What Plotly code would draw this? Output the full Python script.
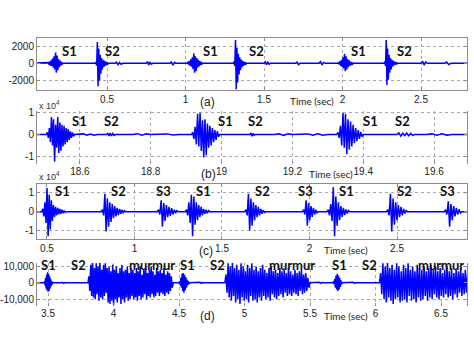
import plotly.graph_objects as go

# ---------------- data ----------------
# Panel (a): normal heart sound, raw amplitude
a_span = [0.0, 2.85]
a_starts = [0.12, 0.425, 0.55, 0.75, 0.90, 1.01, 1.305, 1.50, 1.70, 1.85, 1.97, 2.265, 2.50, 2.65]
a_ends = [0.22, 0.51, 0.60, 0.79, 0.94, 1.11, 1.39, 1.54, 1.73, 1.89, 2.07, 2.35, 2.54, 2.69]
a_values = [
    [80, -120, 200, -250, 350, -300, 550, -500, 800, -700, 1250, -1100, 900, -800, 500, -450, 300, -250, 150, -100],
    [150, -250, 2450, -2650, 1700, -2000, 1000, -1200, 600, -700, 400, -450, 300, -300, 200, -200, 120, -100],
    [150, -150, 100, -120],
    [200, -180, 150, -100],
    [150, -200, 120],
    [100, -150, 250, -300, 450, -400, 700, -650, 1150, -1100, 800, -900, 600, -500, 400, -350, 250, -200, 150, -100],
    [200, -300, 2700, -3000, 1800, -2200, 1100, -1300, 700, -800, 450, -500, 300, -300, 200, -200, 120, -100],
    [180, -150, 120, -100],
    [150, -150],
    [200, -180, 100],
    [100, -150, 250, -300, 400, -450, 700, -600, 1100, -900, 800, -700, 500, -450, 350, -300, 200, -200, 120, -100],
    [200, -300, 2700, -2500, 1700, -1900, 1000, -1100, 600, -700, 400, -400, 300, -250, 200, -150, 120, -100],
    [250, -200, 150],
    [150, -150],
]
a_label_text = ["S1", "S2", "S1", "S2", "S1", "S2"]
a_label_time = [0.258, 0.538, 1.162, 1.449, 2.105, 2.392]
a_xticks = [0.5, 1, 1.5, 2, 2.5]
a_xticktext = ["0.5", "1", "1.5", "2", "2.5"]
a_yticks = [2000, 0, -2000]
a_yticktext = ["2000", "0", "-2000"]

# Panel (b): amplitude in units of 1e4
b_span = [18.4, 19.75]
b_starts = [18.505, 18.60, 18.675, 18.75, 18.83, 18.915, 19.08, 19.15, 19.23, 19.325, 19.495, 19.58]
b_ends = [18.585, 18.65, 18.70, 18.80, 18.88, 18.995, 19.095, 19.20, 19.30, 19.40, 19.545, 19.65]
b_values = [
    [0.1, -0.15, 0.3, -0.35, 0.8, -0.5, 0.7, -1.25, 0.45, -0.6, 0.8, -0.85, 0.55, -0.75, 0.45, -0.55, 0.4, -0.45, 0.3, -0.35, 0.25, -0.25, 0.15, -0.15, 0.1, -0.08],
    [0.03, -0.03, 0.02, -0.03],
    [0.05, -0.06, 0.07, -0.06, 0.05, -0.04],
    [0.04, -0.03, 0.03],
    [0.03, -0.02],
    [0.1, -0.2, 0.35, -0.45, 0.95, -0.55, 1.0, -0.75, 0.65, -1.05, 0.7, -0.95, 0.5, -0.6, 0.4, -0.5, 0.3, -0.35, 0.2, -0.25, 0.15, -0.1],
    [0.07, -0.08, 0.05, -0.04],
    [0.03, -0.04, 0.03],
    [0.03, -0.03, 0.04, -0.03],
    [0.1, -0.15, 0.4, -0.5, 1.0, -0.6, 0.95, -0.9, 0.7, -0.7, 0.6, -0.55, 0.45, -0.4, 0.3, -0.3, 0.2, -0.2, 0.12, -0.1],
    [0.08, -0.07, 0.06, -0.05, 0.07, -0.06, 0.05, -0.04],
    [0.03, -0.03, 0.04, -0.03],
]
b_label_text = ["S1", "S2", "S1", "S2", "S1", "S2"]
b_label_time = [18.60, 18.69, 19.01, 19.097, 19.42, 19.51]
b_xticks = [18.6, 18.8, 19.0, 19.2, 19.4, 19.6]
b_xticktext = ["18.6", "18.8", "19", "19.2", "19.4", "19.6"]
b_yticks = [1, 0, -1]
b_yticktext = ["1", "0", "-1"]

# Panel (c): amplitude in units of 1e4
c_span = [0.4, 2.95]
c_starts = [0.47, 0.81, 1.13, 1.29, 1.63, 1.96, 2.10, 2.44, 2.77]
c_ends = [0.61, 0.95, 1.25, 1.43, 1.75, 2.05, 2.23, 2.56, 2.87]
c_values = [
    [0.15, -0.25, 0.5, -0.6, 1.25, -1.3, 0.9, -0.95, 0.6, -0.5, 0.35, -0.3, 0.25, -0.2, 0.2, -0.15, 0.15, -0.12, 0.1, -0.08, 0.06, -0.04],
    [0.1, -0.2, 0.95, -1.05, 0.7, -0.8, 0.5, -0.55, 0.4, -0.35, 0.3, -0.25, 0.2, -0.18, 0.15, -0.12, 0.1, -0.08, 0.05],
    [0.1, -0.15, 0.6, -0.8, 0.45, -0.5, 0.35, -0.3, 0.25, -0.22, 0.18, -0.15, 0.1, -0.08, 0.05],
    [0.1, -0.2, 0.5, -0.6, 0.9, -1.3, 0.8, -0.7, 0.5, -0.45, 0.35, -0.3, 0.25, -0.2, 0.15, -0.12, 0.1, -0.08, 0.05],
    [0.1, -0.2, 0.95, -1.0, 0.7, -0.75, 0.5, -0.45, 0.35, -0.3, 0.25, -0.2, 0.15, -0.12, 0.08, -0.05],
    [0.1, -0.15, 0.6, -0.75, 0.45, -0.45, 0.3, -0.28, 0.2, -0.15, 0.1, -0.06],
    [0.1, -0.2, 0.4, -0.5, 1.3, -1.3, 0.8, -0.75, 0.5, -0.45, 0.3, -0.28, 0.2, -0.18, 0.12, -0.1, 0.06],
    [0.1, -0.2, 0.95, -1.05, 0.7, -0.7, 0.5, -0.45, 0.35, -0.3, 0.25, -0.2, 0.15, -0.1, 0.06],
    [0.1, -0.15, 0.55, -0.8, 0.4, -0.45, 0.3, -0.25, 0.2, -0.15, 0.12, -0.08],
]
c_label_text = ["S1", "S2", "S3", "S1", "S2", "S3", "S1", "S2", "S3"]
c_label_time = [0.586, 0.906, 1.163, 1.397, 1.729, 1.98, 2.209, 2.54, 2.786]
c_xticks = [0.5, 1, 1.5, 2, 2.5]
c_xticktext = ["0.5", "1", "1.5", "2", "2.5"]
c_yticks = [1, 0, -1]
c_yticktext = ["1", "0", "-1"]

# Panel (d): amplitude in thousands
d_span = [3.35, 6.75]
d_starts = [3.47, 3.60, 3.805, 4.50, 4.65, 4.85, 5.56, 5.675, 5.82, 6.03]
d_ends = [3.535, 3.64, 4.455, 4.58, 4.69, 5.50, 5.60, 5.745, 5.86, 6.72]
d_values = [
    [1, -1.5, 3, -3.5, 5, -4.5, 6.5, -5.5, 5.5, -5, 4, -3.5, 2.5, -2, 1, -1],
    [0.3, -0.3, 0.2],
    [4, -5, 11, -8, 13, -9, 9, -10, 12, -7, 10, -11, 13, -9, 8, -10, 11, -8, 12, -6,
     9, -12, 10, -13, 7, -11, 11, -14, 8, -10, 10, -12, 6, -9, 9, -13, 11, -10, 7, -12, 8, -9, 10, -11, 6, -10, 9, -8,
     8, -10, 6, -9, 9, -11, 7, -8, 10, -10, 5, -9, 8, -7, 9, -10, 6, -8, 8, -9, 10, -7, 7, -9, 5, -8, 9, -6,
     7, -8, 8, -6, 6, -7, 9, -8, 5, -6, 7, -7, 6, -5, 4, -3],
    [1, -1.5, 3, -3, 5.5, -5, 6, -6, 5, -4.5, 3.5, -3, 2, -1.5, 1, -0.8],
    [0.3, -0.3, 0.2],
    [5, -6, 12, -9, 10, -11, 13, -8, 9, -12, 11, -10, 8, -13, 12, -9, 10, -11, 7, -10, 11, -12, 9, -8, 12, -11, 8, -10,
     10, -12, 7, -9, 9, -11, 11, -8, 8, -10, 6, -9, 9, -11, 10, -7, 7, -9, 8, -10, 6, -8, 9, -7, 7, -9, 8, -6,
     6, -8, 9, -7, 7, -8, 5, -6, 8, -7, 6, -8, 7, -5, 8, -7, 5, -6, 6, -5, 3, -3],
    [0.3, -0.3, 0.2],
    [1, -1, 2.5, -3, 4.5, -4, 5.5, -5, 4.5, -4, 3, -2.5, 1.5, -1],
    [0.3, -0.3, 0.2],
    [6, -7, 12, -10, 10, -12, 13, -9, 9, -11, 11, -13, 8, -10, 12, -9, 10, -12, 7, -11, 11, -10, 9, -12, 12, -8,
     8, -11, 10, -10, 7, -12, 11, -9, 9, -11, 8, -10, 10, -8, 7, -11, 9, -9, 11, -10, 8, -7, 10, -9, 7, -10,
     9, -8, 6, -9, 8, -7, 10, -9, 7, -8, 9, -10, 6, -7, 8, -9, 7, -6, 9, -8, 6, -7, 8, -6, 5, -5],
]
d_label_text = ["S1", "S2", "murmur", "S1", "S2", "murmur", "S1", "S2", "murmur"]
d_label_time = [3.5, 3.729, 4.294, 4.561, 4.79, 5.363, 5.721, 5.95, 6.5]
d_xticks = [3.5, 4, 4.5, 5, 5.5, 6, 6.5]
d_xticktext = ["3.5", "4", "4.5", "5", "5.5", "6", "6.5"]
d_yticks = [10000, 0, -10000]
d_yticktext = ["10,000", "0", "-10,000"]

# ---------------- build ----------------
W, H = 474, 355


def build(span, starts, ends, values, scale=1.0):
    xs, ys = [span[0]], [0.0]
    for s, e, v in sorted(zip(starts, ends, values)):
        step = (e - s) / (len(v) + 1)
        xs.append(s); ys.append(0.0)
        for i, val in enumerate(v):
            xs.append(s + step * (i + 1)); ys.append(val * scale)
        xs.append(e); ys.append(0.0)
    xs.append(span[1]); ys.append(0.0)
    return xs, ys


def ydom(top_px, bot_px):
    return [1 - bot_px / H, 1 - top_px / H]


xdom = [37 / W, 467 / W]
BLUE = "#0000ff"
GRID = "#a8a8a8"
LINE = "#8c8c8c"
TICKFONT = dict(family="Liberation Sans, Arial", size=10, color="#222")
LABFONT = dict(family="Lato, Open Sans", size=13, color="#111")

panels = [
    dict(name="a", data=build(a_span, a_starts, a_ends, a_values), xr=[0.054, 2.793], yr=[-3086, 2971],
         dom=ydom(34, 87), xt=(a_xticks, a_xticktext), yt=(a_yticks, a_yticktext), box=True,
         labels=(a_label_text, a_label_time), laby=1370),
    dict(name="b", data=build(b_span, b_starts, b_ends, b_values), xr=[18.479, 19.693], yr=[-1.36, 1.09],
         dom=ydom(108, 162), xt=(b_xticks, b_xticktext), yt=(b_yticks, b_yticktext), box=False,
         labels=(b_label_text, b_label_time), laby=0.64),
    dict(name="c", data=build(c_span, c_starts, c_ends, c_values), xr=[0.443, 2.9], yr=[-1.47, 1.47],
         dom=ydom(182, 238), xt=(c_xticks, c_xticktext), yt=(c_yticks, c_yticktext), box=True,
         labels=(c_label_text, c_label_time), laby=1.1),
    dict(name="d", data=build(d_span, d_starts, d_ends, d_values, 1000), xr=[3.416, 6.698], yr=[-13900, 12100],
         dom=ydom(262, 305), xt=(d_xticks, d_xticktext), yt=(d_yticks, d_yticktext), box=False,
         labels=(d_label_text, d_label_time), laby=10900),
]

fig = go.Figure()
layout = dict(width=W, height=H, margin=dict(l=0, r=0, t=0, b=0), paper_bgcolor="white",
              plot_bgcolor="white", showlegend=False)
annotations = []
for i, p in enumerate(panels):
    k = "" if i == 0 else str(i + 1)
    xs, ys = p["data"]
    fig.add_trace(go.Scatter(x=xs, y=ys, mode="lines", line=dict(color=BLUE, width=1.5),
                             xaxis="x" + k, yaxis="y" + k, hoverinfo="skip"))
    layout["xaxis" + k] = dict(domain=xdom, anchor="y" + k, range=p["xr"], tickvals=p["xt"][0],
                               ticktext=p["xt"][1], showgrid=True, gridcolor=GRID, griddash="dot",
                               gridwidth=1, zeroline=False, showline=p["box"], linecolor=LINE,
                               mirror="ticks" if p["box"] else False, ticks="inside", ticklen=3,
                               tickcolor=LINE, tickfont=TICKFONT)
    layout["yaxis" + k] = dict(domain=p["dom"], anchor="x" + k, range=p["yr"], tickvals=p["yt"][0],
                               ticktext=p["yt"][1], showgrid=True, gridcolor=GRID, griddash="dot",
                               gridwidth=1, zeroline=False, showline=True, linecolor=LINE,
                               mirror="ticks", ticks="inside", ticklen=3, tickcolor=LINE,
                               tickfont=TICKFONT)
    for txt, t in zip(*p["labels"]):
        annotations.append(dict(x=t, y=p["laby"], xref="x" + k, yref="y" + k, text="<b>%s</b>" % txt,
                                showarrow=False, font=LABFONT, xanchor="center", yanchor="middle"))

# panel captions, axis titles and exponent markers (pixel positions)
captions = [("(a)", 207, 99), ("(b)", 208, 172), ("(c)", 206, 250), ("(d)", 207, 316)]
for txt, px, py in captions:
    annotations.append(dict(x=px / W, y=1 - py / H, xref="paper", yref="paper", text=txt, showarrow=False,
                            font=dict(family="Liberation Sans, Arial", size=12, color="#222"),
                            xanchor="center", yanchor="middle"))
timelabels = [(312, 98), (331, 172), (346, 249), (346, 316)]
for px, py in timelabels:
    annotations.append(dict(x=px / W, y=1 - py / H, xref="paper", yref="paper", text="Time (sec)",
                            showarrow=False, font=dict(family="Lato, Open Sans", size=10, color="#222"),
                            xanchor="center", yanchor="middle"))
for py in (102, 174):
    annotations.append(dict(x=37 / W, y=1 - py / H, xref="paper", yref="paper", text="x 10<sup>4</sup>",
                            showarrow=False, font=dict(family="Liberation Sans, Arial", size=9, color="#333"),
                            xanchor="left", yanchor="middle"))
layout["annotations"] = annotations
fig.update_layout(**layout)
fig.write_html("out.html")
